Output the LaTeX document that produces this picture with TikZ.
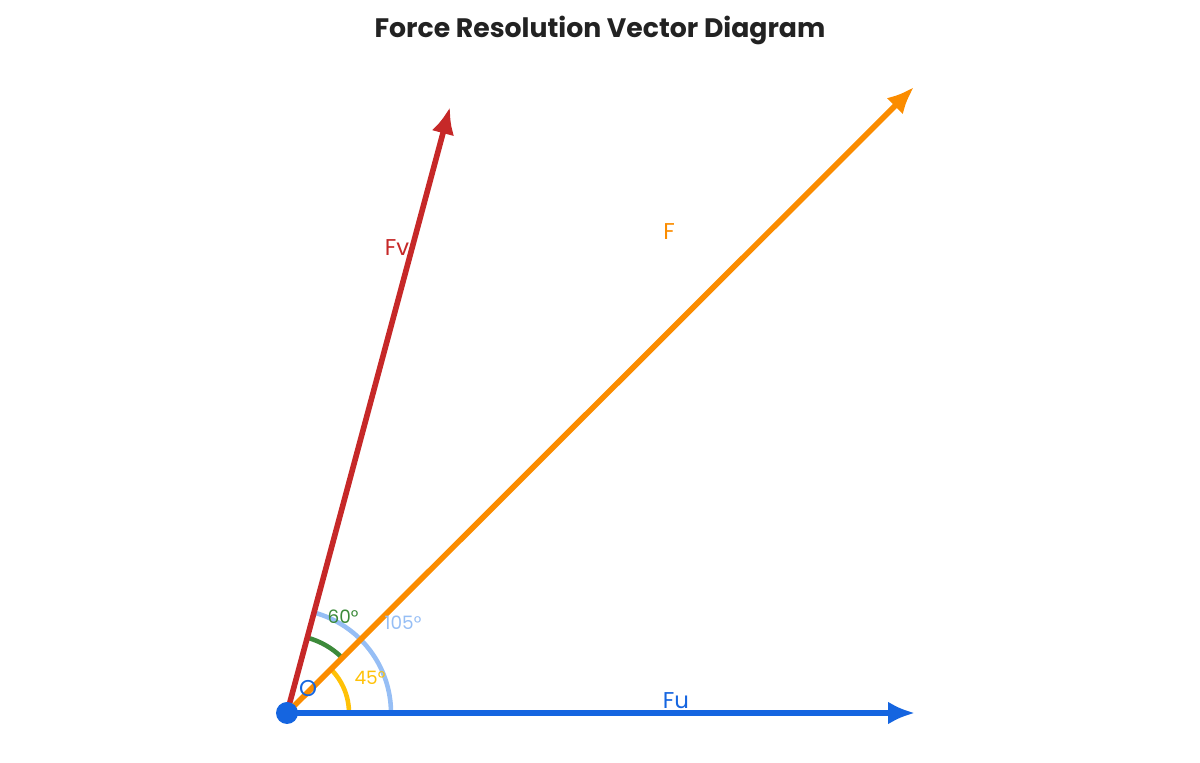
\documentclass[tikz,border=0pt]{standalone}
\usepackage{fontspec}
\setmainfont{Poppins}
\usetikzlibrary{arrows.meta}
\definecolor{fured}{HTML}{C62828}
\definecolor{forange}{HTML}{FB8C00}
\definecolor{fublue}{HTML}{1565E0}
\definecolor{arcyellow}{HTML}{FFC107}
\definecolor{arcgreen}{HTML}{3C8A3A}
\definecolor{arclight}{HTML}{96BEF5}
\definecolor{titlegray}{HTML}{222222}

\tikzset{
  vec/.style={-{Latex[length=0.54cm,width=0.46cm]},line width=3.2pt},
  anglearc/.style={line width=2.6pt},
  veclabel/.style={font=\fontsize{13}{15}\selectfont,inner sep=0pt},
  anglelabel/.style={font=\fontsize{10.5}{12}\selectfont,inner sep=0pt}
}

\begin{document}
\begin{tikzpicture}[x=0.02cm,y=0.02cm]
\useasboundingbox (0,0) rectangle (1200,763);

% title
\node [titlegray] (title) at (600,733) {\fontsize{15.2}{18}\selectfont\bfseries Force Resolution Vector Diagram};

% origin and vector tips
\coordinate (O) at (287,50);
\coordinate (Fu) at (915,50);
\coordinate (Fv) at (450,656);
\coordinate (F) at (914,676);

% angle arcs
\draw [anglearc,arclight] ([shift={(0:104)}]O) arc [start angle=0,end angle=75,radius=104];
\draw [anglearc,arcgreen] ([shift={(45:78)}]O) arc [start angle=45,end angle=75,radius=78];
\draw [anglearc,arcyellow] ([shift={(0:62)}]O) arc [start angle=0,end angle=45,radius=62];

% force vectors
\draw [vec,fured] (O) -- (Fv);
\draw [vec,forange] (O) -- (F);
\draw [vec,fublue] (O) -- (Fu);
\fill [fublue] (O) circle (11);

% labels
\node [veclabel,fublue] (lfu) at (676,62) {Fu};
\node [veclabel,fured] (lfv) at (397,515) {Fv};
\node [veclabel,forange] (lf) at (669,531) {F};
\node [veclabel,fublue] (lo) at (308,74) {O};
\node [anglelabel,arcgreen] (l60) at (343,146) {60°};
\node [anglelabel,arclight] (l105) at (403,140) {105°};
\node [anglelabel,arcyellow] (l45) at (370,85) {45°};

\end{tikzpicture}
\end{document}
